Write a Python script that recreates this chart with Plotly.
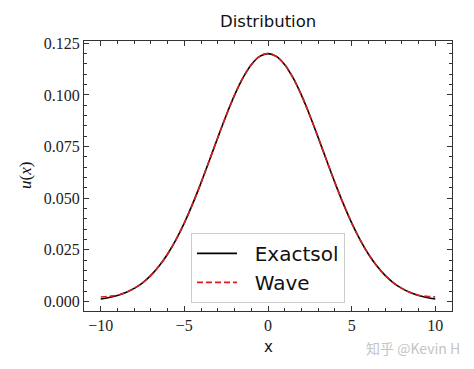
import plotly.graph_objects as go

x_vals = [-10, -9.5, -9, -8.5, -8, -7.5, -7, -6.5, -6, -5.5, -5, -4.5, -4, -3.5, -3, -2.5, -2, -1.5, -1, -0.5,
          0, 0.5, 1, 1.5, 2, 2.5, 3, 3.5, 4, 4.5, 5, 5.5, 6, 6.5, 7, 7.5, 8, 8.5, 9, 9.5, 10]
half_exact = [0.00122, 0.00190, 0.00291, 0.00435, 0.00635, 0.00907, 0.01265, 0.01725, 0.02298, 0.02992,
              0.03808, 0.04736, 0.05756, 0.06838, 0.07938, 0.09007, 0.09987, 0.10822, 0.11462, 0.11863]
exact_vals = half_exact + [0.12000] + half_exact[::-1]
half_wave = [0.00215, 0.00250, 0.00305, 0.00440, 0.00635, 0.00907, 0.01265, 0.01725, 0.02298, 0.02992,
             0.03808, 0.04736, 0.05756, 0.06838, 0.07938, 0.09007, 0.09987, 0.10822, 0.11462, 0.11863]
wave_vals = half_wave + [0.12000] + half_wave[::-1]

series_names = ["Exactsol", "Wave"]
x_ticks = [-10, -5, 0, 5, 10]
y_ticks = [0.000, 0.025, 0.050, 0.075, 0.100, 0.125]

fig = go.Figure()
fig.add_trace(go.Scatter(x=x_vals, y=exact_vals, mode="lines", name="\u00a0\u00a0" + series_names[0],
                         line=dict(color="black", width=1.6, shape="spline")))
fig.add_trace(go.Scatter(x=x_vals, y=wave_vals, mode="lines", name="\u00a0\u00a0" + series_names[1],
                         line=dict(color="#dd1c1c", width=1.6, dash="6px,3px", shape="spline")))

axis_common = dict(showline=True, linecolor="#333", linewidth=1, mirror="allticks",
                   ticks="inside", ticklen=5, tickwidth=1, tickcolor="#333",
                   showgrid=False, zeroline=False,
                   tickfont=dict(family="Liberation Serif", size=16, color="#222"))

fig.update_xaxes(range=[-11, 11], tickvals=x_ticks, ticktext=[("\u2212" + str(-v)) if v < 0 else str(v) for v in x_ticks],
                 minor=dict(dtick=1, ticks="inside", ticklen=3, tickcolor="#333", tickwidth=1),
                 **axis_common)
fig.update_yaxes(range=[-0.0046, 0.1261], tickvals=y_ticks, ticktext=[f"{v:.3f}" for v in y_ticks],
                 minor=dict(dtick=0.005, ticks="inside", ticklen=3, tickcolor="#333", tickwidth=1),
                 **axis_common)

# page body has an 8px offset, margins compensate
fig.update_layout(
    width=474, height=369,
    margin=dict(l=76, r=30, t=33, b=66),
    paper_bgcolor="white", plot_bgcolor="white",
    showlegend=True,
    legend=dict(x=0.5, xanchor="center", y=0.03, yanchor="bottom",
                bgcolor="rgba(255,255,255,0.85)", bordercolor="#cccccc", borderwidth=1,
                font=dict(family="DejaVu Sans", size=20, color="#111"),
                itemwidth=40, tracegroupgap=4),
    annotations=[
        dict(text="Distribution", xref="paper", yref="paper", x=0.5, y=1, yshift=20,
             showarrow=False, font=dict(family="DejaVu Sans", size=16.5, color="#111"), yanchor="middle"),
        dict(text="x", xref="paper", yref="paper", x=0.5, y=0, yshift=-36,
             showarrow=False, font=dict(family="DejaVu Sans", size=15, color="#111"), yanchor="middle"),
        dict(text="<i>u</i>(<i>x</i>)", xref="paper", yref="paper", x=0, xshift=-59, y=0.5,
             textangle=-90, showarrow=False,
             font=dict(family="Liberation Serif", size=17, color="#111"), xanchor="center", yanchor="middle"),
        dict(text="知乎 @Kevin H", xref="paper", yref="paper", x=1, xshift=10, y=0, yshift=-37,
             xanchor="right", yanchor="middle", showarrow=False,
             font=dict(family="Noto Sans CJK SC", size=14, color="#c4c4c4")),
    ],
)

fig.write_html("out.html")
